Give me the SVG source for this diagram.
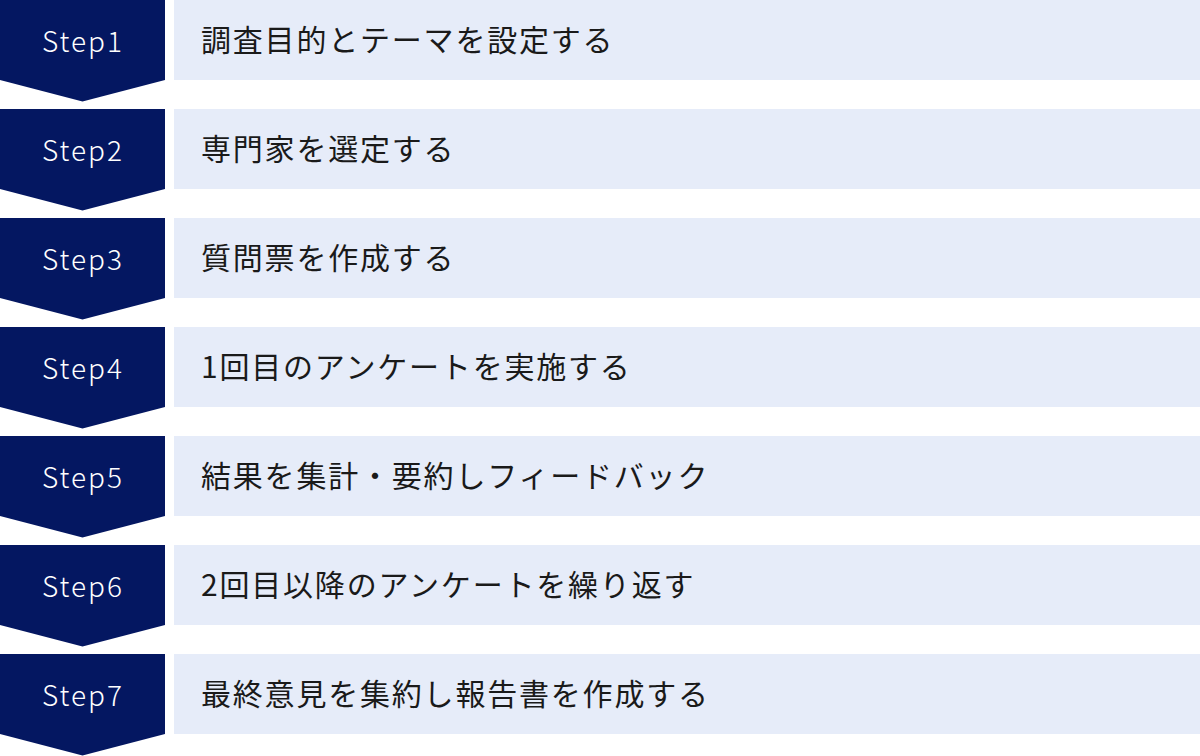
<svg xmlns="http://www.w3.org/2000/svg" width="1200" height="756" viewBox="0 0 1200 756">
<style>
.chev{fill:#041761}
.bar{fill:#E6ECF9}
.step{font-family:"Noto Sans CJK JP","Noto Sans",sans-serif;font-size:28px;font-weight:300;fill:#ffffff;text-anchor:middle;letter-spacing:2px}
.lbl{font-family:"Noto Sans CJK JP","Noto Sans",sans-serif;font-size:30px;fill:#1a1a1a;letter-spacing:1.8px}
</style>
<defs>
<polygon id="chev" points="0,0 165,0 165,80 82.5,101.5 0,80"/>
</defs>
<g id="step1" transform="translate(0,0)"><use href="#chev" class="chev"/><rect class="bar" x="174" y="0" width="1026" height="80"/><text class="step" x="83" y="52">Step1</text><text class="lbl" x="201" y="51">調査目的とテーマを設定する</text></g>
<g id="step2" transform="translate(0,109)"><use href="#chev" class="chev"/><rect class="bar" x="174" y="0" width="1026" height="80"/><text class="step" x="83" y="52">Step2</text><text class="lbl" x="201" y="51">専門家を選定する</text></g>
<g id="step3" transform="translate(0,218)"><use href="#chev" class="chev"/><rect class="bar" x="174" y="0" width="1026" height="80"/><text class="step" x="83" y="52">Step3</text><text class="lbl" x="201" y="51">質問票を作成する</text></g>
<g id="step4" transform="translate(0,327)"><use href="#chev" class="chev"/><rect class="bar" x="174" y="0" width="1026" height="80"/><text class="step" x="83" y="52">Step4</text><text class="lbl" x="201" y="51">1回目のアンケートを実施する</text></g>
<g id="step5" transform="translate(0,436)"><use href="#chev" class="chev"/><rect class="bar" x="174" y="0" width="1026" height="80"/><text class="step" x="83" y="52">Step5</text><text class="lbl" x="201" y="51">結果を集計・要約しフィードバック</text></g>
<g id="step6" transform="translate(0,545)"><use href="#chev" class="chev"/><rect class="bar" x="174" y="0" width="1026" height="80"/><text class="step" x="83" y="52">Step6</text><text class="lbl" x="201" y="51">2回目以降のアンケートを繰り返す</text></g>
<g id="step7" transform="translate(0,654)"><use href="#chev" class="chev"/><rect class="bar" x="174" y="0" width="1026" height="80"/><text class="step" x="83" y="52">Step7</text><text class="lbl" x="201" y="51">最終意見を集約し報告書を作成する</text></g>
<g id="connectors"></g>
</svg>
